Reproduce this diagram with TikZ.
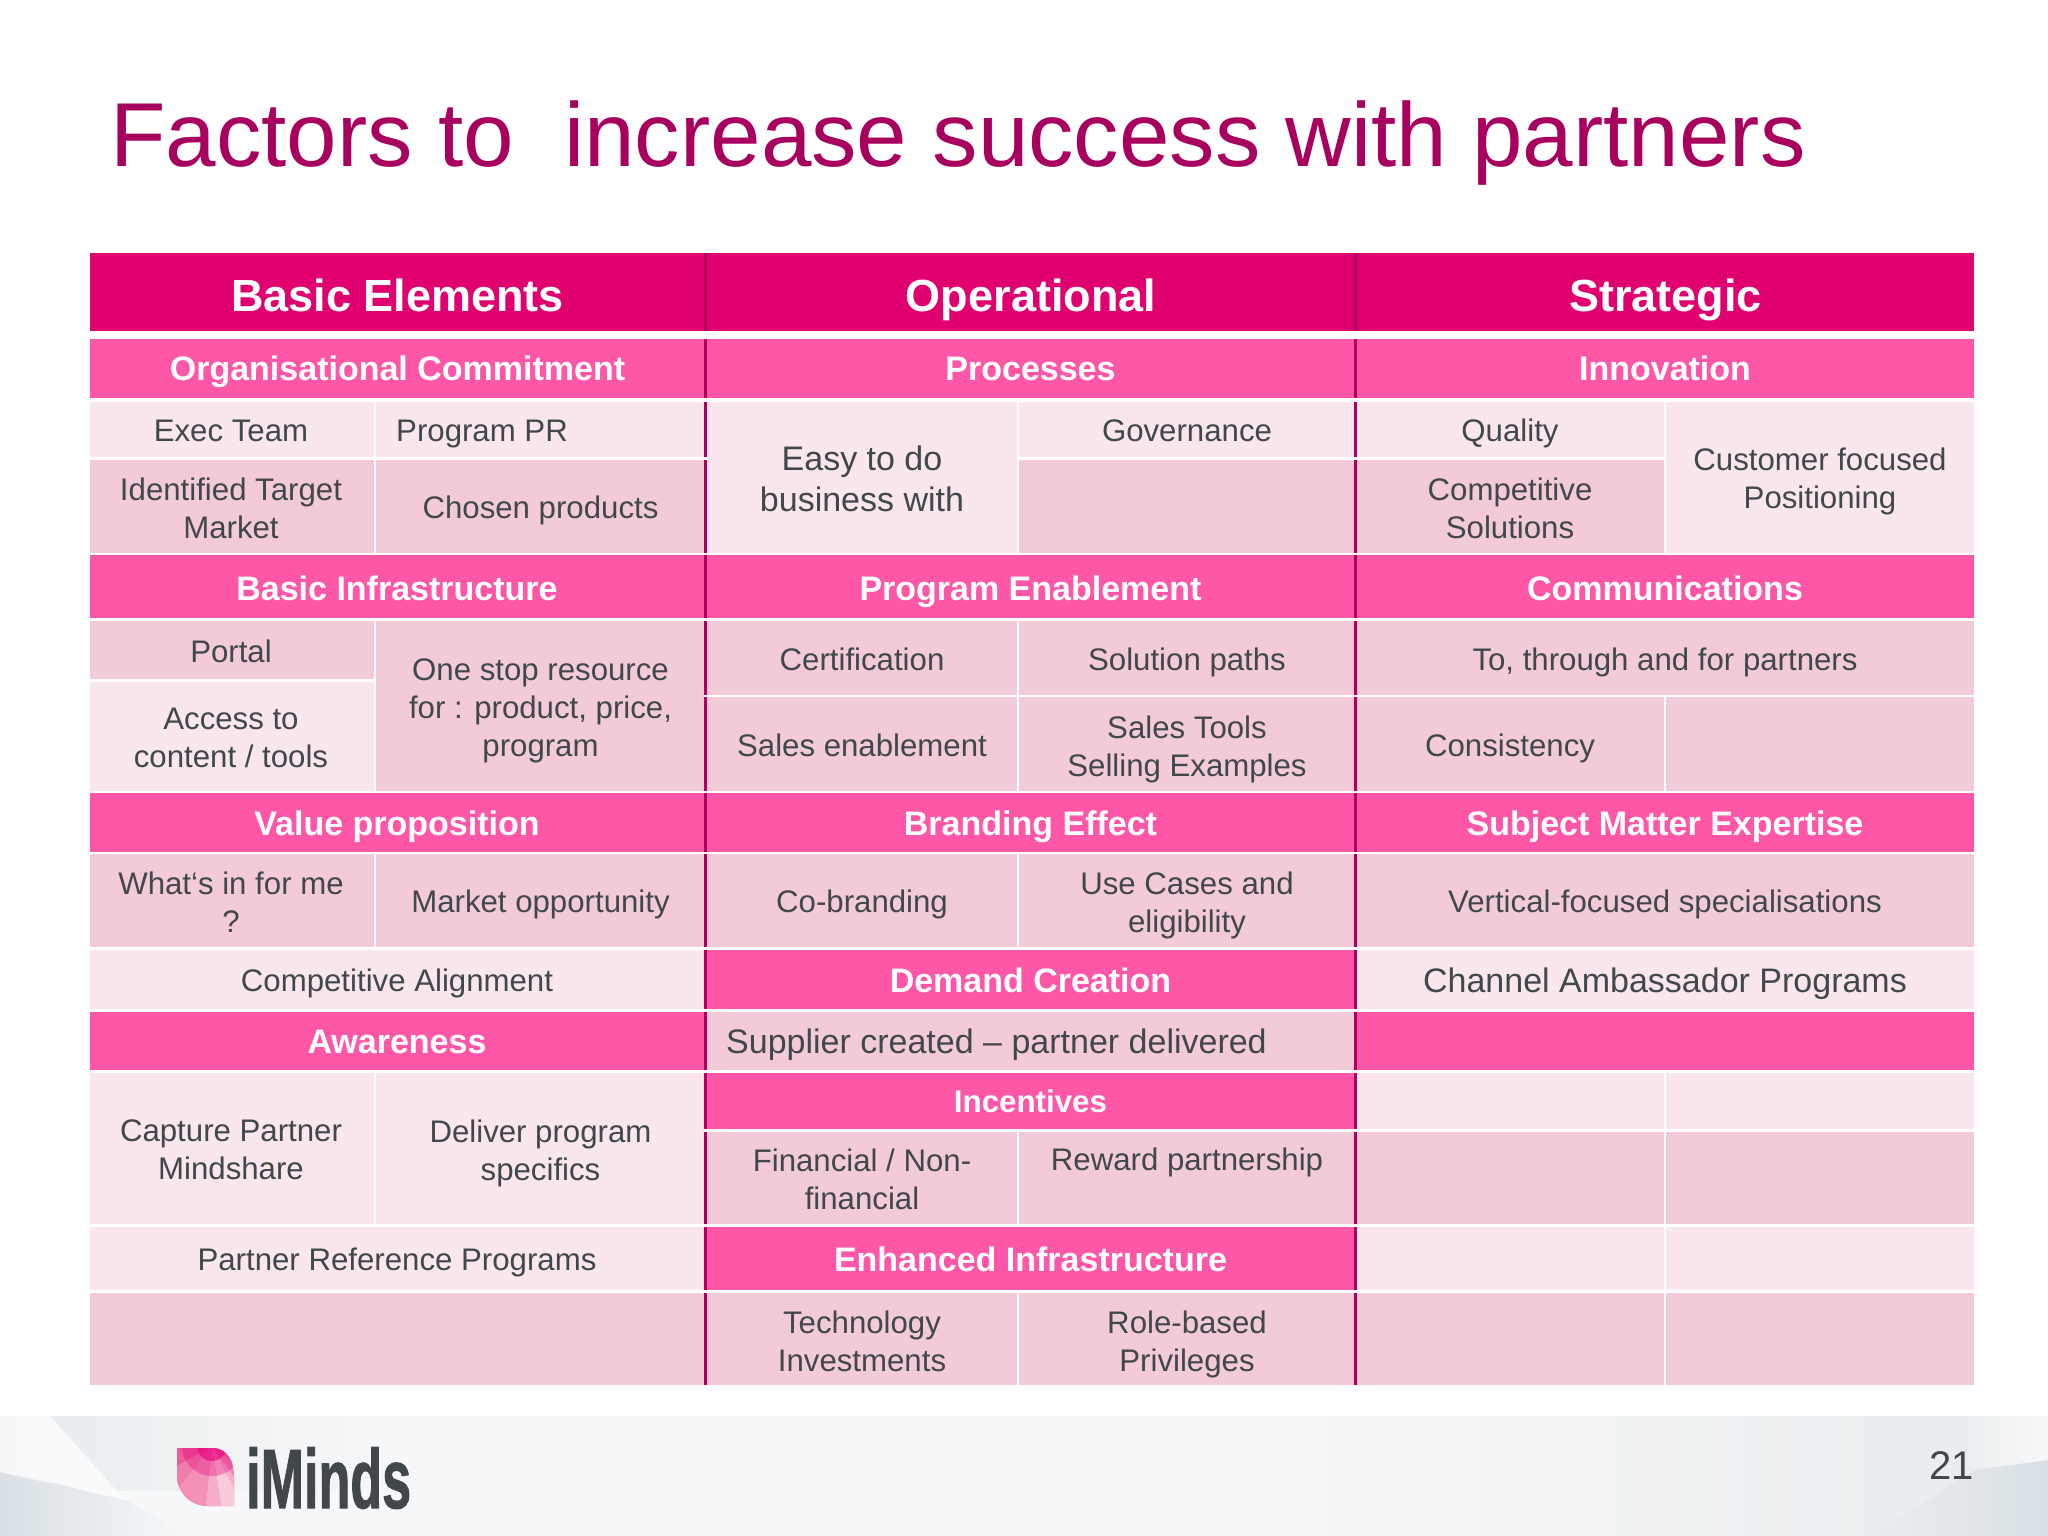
\documentclass[tikz,border=0pt]{standalone}
\usepackage{fontspec}
\setmainfont{Liberation Sans}
\newfontfamily\logofont[FakeBold=1.5]{Liberation Sans Bold}
\definecolor{hdr}{HTML}{E0006F}
\definecolor{subbar}{HTML}{FF57A8}
\definecolor{lite}{HTML}{FAE6ED}
\definecolor{mid}{HTML}{F3CAD8}
\definecolor{divcol}{HTML}{B0005F}
\definecolor{ink}{HTML}{40484C}
\definecolor{titlecol}{HTML}{A8005E}
\definecolor{fa}{HTML}{F06FA5}
\definecolor{fb}{HTML}{E6007E}
\definecolor{fc}{HTML}{EC5A98}
\definecolor{fe}{HTML}{EE6AA0}
\definecolor{ff}{HTML}{F283AF}
\definecolor{fh}{HTML}{F8CBDA}
\definecolor{fi}{HTML}{F6AECA}
\definecolor{fj}{HTML}{F391B6}
\definecolor{fk}{HTML}{F07EAA}
\definecolor{bandbase}{HTML}{F7F8F9}
\definecolor{bandgrey}{HTML}{EAEDEF}
\definecolor{bandblue}{HTML}{D8E0E5}
\tikzset{
  strutted/.style={inner sep=0pt,align=center,execute at begin node=\strut,execute at end node=\strut},
  bodytxt/.style={strutted,yshift=-3.3pt,text=ink,font=\fontsize{31.2}{38}\selectfont},
  bigtxt/.style={strutted,yshift=-3.3pt,text=ink,font=\fontsize{34}{41}\selectfont},
  subtxt/.style={strutted,yshift=-3.3pt,text=white,font=\bfseries\fontsize{34}{41}\selectfont},
  hdrtxt/.style={strutted,yshift=-5.3pt,text=white,font=\bfseries\fontsize{45}{54}\selectfont},
  multi/.style={yshift=-2.4pt},
  divline/.style={draw=divcol,line width=3pt}
}
\newcommand{\cellbox}[5]{\fill[#5] (#1,#2) rectangle (#3,#4);}
\begin{document}
\begin{tikzpicture}[x=1pt,y=-1pt]
\useasboundingbox (0,0) rectangle (2048,1536);
\fill[white] (0,0) rectangle (2048,1536);
% footer band
\fill[bandbase] (0,1416) rectangle (2048,1536);
\shade[left color=bandbase,right color=bandgrey] (1150,1416) rectangle (1960,1536);
\shade[left color=bandgrey,right color=bandbase] (1960,1416) rectangle (2048,1536);
\shade[left color=bandgrey,right color=bandbase] (50,1416) rectangle (420,1490);
\shade[left color=bandbase,right color=bandbase!60!white] (0,1416) -- (50,1416) -- (125,1500) -- (0,1470) -- cycle;
\shade[left color=bandblue,right color=bandbase] (0,1472) -- (125,1500) -- (190,1536) -- (0,1536) -- cycle;
\shade[left color=bandgrey,right color=bandblue] (1872,1536) -- (1975,1470) -- (2048,1460) -- (2048,1536) -- cycle;
% logo
\begin{scope}
\clip (177,1448) -- (212,1448) .. controls (228,1448) and (234,1462) .. (234,1478) -- (234,1506) -- (208,1506) .. controls (190,1506) and (177,1492) .. (177,1476) -- cycle;
\fill[fa] (170,1440) rectangle (240,1512);
\fill[fc] (170,1446) -- (212,1446) -- (170,1470) -- cycle;
\fill[fe] (212,1446) -- (240,1448) -- (240,1470) -- cycle;
\fill[ff] (212,1446) -- (240,1468) -- (240,1485) -- cycle;
\fill[fi] (212,1446) -- (240,1485) -- (240,1500) -- cycle;
\fill[fh] (212,1446) -- (240,1500) -- (240,1512) -- (222,1512) -- cycle;
\fill[fi] (212,1446) -- (222,1512) -- (205,1512) -- cycle;
\fill[fj] (212,1446) -- (205,1512) -- (170,1512) -- (170,1498) -- cycle;
\fill[fk] (212,1446) -- (170,1498) -- (170,1470) -- cycle;
\fill[fb,opacity=.35] (212,1446) circle (30);
\fill[fb,opacity=.6] (212,1446) circle (15);
\end{scope}
\node[anchor=base west,inner sep=0pt,text=ink,font=\logofont\fontsize{84}{84}\selectfont] (logotxt) at (246,1508) {\scalebox{0.62}[1]{iMinds}};
\node[anchor=base east,inner sep=0pt,text=ink,font=\fontsize{40}{40}\selectfont] (pagenum) at (1974,1479) {21};
% title
\node[anchor=base west,inner sep=0pt,text=titlecol,font=\fontsize{90.8}{90.8}\selectfont] (title) at (110,166) {Factors to\ \ increase success with partners};
% header
\cellbox{90}{253}{1974}{331}{hdr}
% section bars
\cellbox{90}{339}{1974}{398}{subbar}
\cellbox{90}{555}{1974}{618}{subbar}
\cellbox{90}{793}{1974}{852}{subbar}
% block 1
\cellbox{90}{402}{374}{457}{lite}
\cellbox{376}{402}{704}{457}{lite}
\cellbox{90}{460}{374}{553}{mid}
\cellbox{376}{460}{704}{553}{mid}
\cellbox{707}{402}{1017}{553}{lite}
\cellbox{1019}{402}{1354}{457}{lite}
\cellbox{1019}{460}{1354}{553}{mid}
\cellbox{1357}{402}{1664}{457}{lite}
\cellbox{1357}{460}{1664}{553}{mid}
\cellbox{1666}{402}{1974}{553}{lite}
% block 2
\cellbox{90}{621}{374}{679}{mid}
\cellbox{90}{682}{374}{791}{lite}
\cellbox{376}{621}{704}{791}{mid}
\cellbox{707}{621}{1017}{695}{mid}
\cellbox{1019}{621}{1354}{695}{mid}
\cellbox{1357}{621}{1974}{695}{mid}
\cellbox{707}{697}{1017}{791}{mid}
\cellbox{1019}{697}{1354}{791}{mid}
\cellbox{1357}{697}{1664}{791}{mid}
\cellbox{1666}{697}{1974}{791}{mid}
% block 3
\cellbox{90}{854}{374}{947}{mid}
\cellbox{376}{854}{704}{947}{mid}
\cellbox{707}{854}{1017}{947}{mid}
\cellbox{1019}{854}{1354}{947}{mid}
\cellbox{1357}{854}{1974}{947}{mid}
\cellbox{90}{950}{704}{1009}{lite}
\cellbox{707}{950}{1354}{1009}{subbar}
\cellbox{1357}{950}{1974}{1009}{lite}
\cellbox{90}{1012}{704}{1070}{subbar}
\cellbox{707}{1012}{1354}{1070}{mid}
\cellbox{1357}{1012}{1974}{1070}{subbar}
\cellbox{90}{1073}{374}{1224}{lite}
\cellbox{376}{1073}{704}{1224}{lite}
\cellbox{707}{1073}{1354}{1129}{subbar}
\cellbox{1357}{1073}{1664}{1129}{lite}
\cellbox{1666}{1073}{1974}{1129}{lite}
\cellbox{707}{1132}{1017}{1224}{mid}
\cellbox{1019}{1132}{1354}{1224}{mid}
\cellbox{1357}{1132}{1664}{1224}{mid}
\cellbox{1666}{1132}{1974}{1224}{mid}
\cellbox{90}{1227}{704}{1290}{lite}
\cellbox{707}{1227}{1354}{1290}{subbar}
\cellbox{1357}{1227}{1664}{1290}{lite}
\cellbox{1666}{1227}{1974}{1290}{lite}
\cellbox{90}{1293}{704}{1385}{mid}
\cellbox{707}{1293}{1017}{1385}{mid}
\cellbox{1019}{1293}{1354}{1385}{mid}
\cellbox{1357}{1293}{1664}{1385}{mid}
\cellbox{1666}{1293}{1974}{1385}{mid}
% dark column rules
\foreach \ya/\yb in {253/331,339/398,402/457,460/553,555/618,621/695,697/791,793/852,854/947,950/1009,1012/1070,1073/1129,1132/1224,1227/1290,1293/1385}{
  \draw[divline] (705.5,\ya) -- (705.5,\yb);
  \draw[divline] (1355.5,\ya) -- (1355.5,\yb);
}
% header text
\node[hdrtxt] (h1) at (397.5,295) {Basic Elements};
\node[hdrtxt] (h2) at (1031,295) {Operational};
\node[hdrtxt] (h3) at (1665.5,295) {Strategic};
% section titles
\node[subtxt] (s1) at (397.5,369) {Organisational Commitment};
\node[subtxt] (s2) at (1030.5,369) {Processes};
\node[subtxt] (s3) at (1665,369) {Innovation};
\node[subtxt] (s4) at (397,589) {Basic Infrastructure};
\node[subtxt] (s5) at (1030.5,589) {Program Enablement};
\node[subtxt] (s6) at (1665,589) {Communications};
\node[subtxt] (s7) at (397,824) {Value proposition};
\node[subtxt] (s8) at (1030.5,824) {Branding Effect};
\node[subtxt] (s9) at (1665,824) {Subject Matter Expertise};
\node[subtxt] (s10) at (1030.5,981) {Demand Creation};
\node[subtxt] (s11) at (397,1042) {Awareness};
\node[subtxt,font=\bfseries\fontsize{31.3}{38}\selectfont] (s12) at (1030.5,1102) {Incentives};
\node[subtxt] (s13) at (1030.5,1260) {Enhanced Infrastructure};
% block 1 text
\node[bodytxt] (a1) at (231,431) {Exec Team};
\node[bodytxt,anchor=west] (a2) at (396,431) {Program PR};
\node[bodytxt,multi] (a3) at (231,508) {Identified Target\\Market};
\node[bodytxt] (a4) at (540.5,508) {Chosen products};
\node[bigtxt,multi] (a5) at (862,479) {Easy to do\\business with};
\node[bodytxt] (a6) at (1187,431) {Governance};
\node[bodytxt] (a7) at (1510,431) {Quality};
\node[bodytxt,multi] (a8) at (1510,508) {Competitive\\Solutions};
\node[bodytxt,multi] (a9) at (1820,478) {Customer focused\\Positioning};
% block 2 text
\node[bodytxt] (b1) at (231,652) {Portal};
\node[bodytxt,multi] (b2) at (231,738) {Access to\\content / tools};
\node[bodytxt,multi] (b3) at (540.5,708) {One stop resource\\for : product, price,\\program};
\node[bodytxt] (b4) at (862,660) {Certification};
\node[bodytxt] (b5) at (1187,660) {Solution paths};
\node[bodytxt] (b6) at (1665,660) {To, through and for partners};
\node[bodytxt] (b7) at (862,746) {Sales enablement};
\node[bodytxt,multi] (b8) at (1187,746) {Sales Tools\\Selling Examples};
\node[bodytxt] (b9) at (1510,746) {Consistency};
% block 3 text
\node[bodytxt,multi] (c1) at (231,902) {What‘s in for me\\?};
\node[bodytxt] (c2) at (540.5,902) {Market opportunity};
\node[bodytxt] (c3) at (862,902) {Co-branding};
\node[bodytxt,multi] (c4) at (1187,902) {Use Cases and\\eligibility};
\node[bodytxt] (c5) at (1665,902) {Vertical-focused specialisations};
\node[bodytxt] (c6) at (397,981) {Competitive Alignment};
\node[bigtxt] (c7) at (1665,981) {Channel Ambassador Programs};
\node[bigtxt,anchor=west] (c8) at (726,1042) {Supplier created – partner delivered};
\node[bodytxt,multi] (c9) at (231,1150) {Capture Partner\\Mindshare};
\node[bodytxt,multi] (c10) at (540.5,1150) {Deliver program\\specifics};
\node[bodytxt,multi] (c11) at (862,1179) {Financial / Non-\\financial};
\node[bodytxt] (c12) at (1187,1160) {Reward partnership};
\node[bodytxt] (c13) at (397,1260) {Partner Reference Programs};
\node[bodytxt,multi] (c14) at (862,1341) {Technology\\Investments};
\node[bodytxt,multi] (c15) at (1187,1341) {Role-based\\Privileges};
\end{tikzpicture}
\end{document}
